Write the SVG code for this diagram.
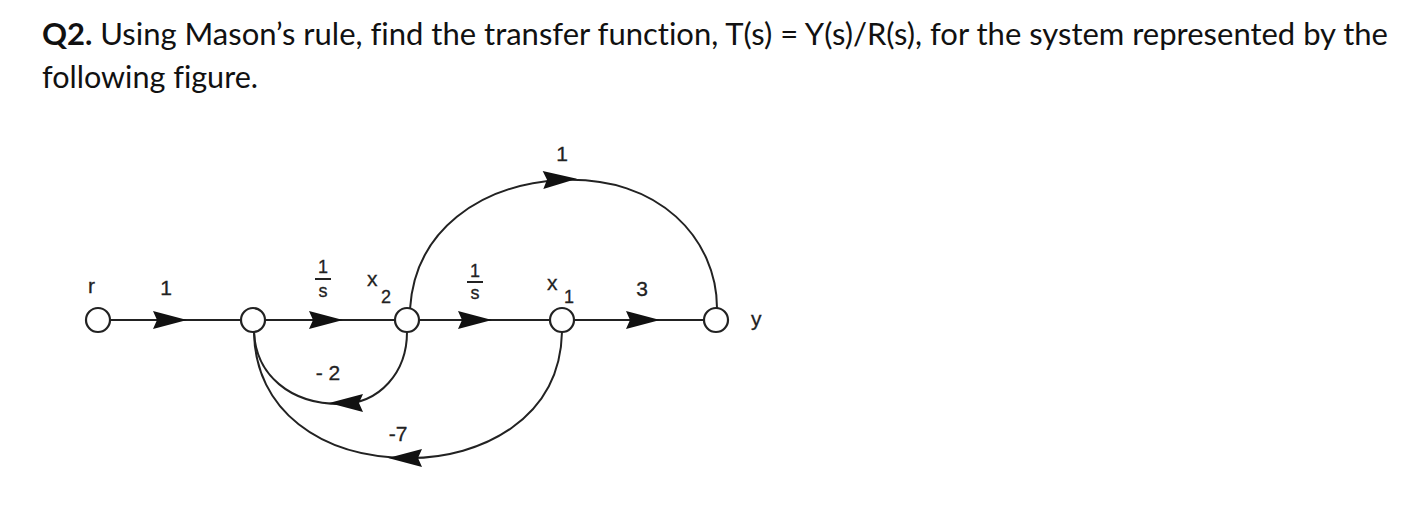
<svg xmlns="http://www.w3.org/2000/svg" width="1420" height="520" viewBox="0 0 1420 520">
<style>
.title{font-family:Lato,"Open Sans","Liberation Sans",sans-serif;font-size:30px;fill:#111;font-variant-ligatures:none;font-feature-settings:"liga" 0}
.lbl{font-family:"Liberation Sans","DejaVu Sans",sans-serif;font-size:21px;fill:#222;stroke:#222;stroke-width:0.3}
.sm{font-family:"Liberation Sans","DejaVu Sans",sans-serif;font-size:18px;fill:#222;stroke:#222;stroke-width:0.3}
.node{fill:#fff;stroke:#222;stroke-width:2.2}
.edge{fill:none;stroke:#222;stroke-width:2}
.arr{fill:#111}
</style>
<defs>
<path id="ah" d="M0,-9 L34,0 L0,9 L4,0 Z"/>
</defs>
<rect width="1420" height="520" fill="#fff"/>
<text class="title" x="42" y="45" textLength="1346" lengthAdjust="spacingAndGlyphs"><tspan font-weight="bold">Q2.</tspan> Using Mason’s rule, find the transfer function, T(s) = Y(s)/R(s), for the system represented by the</text>
<text class="title" x="42" y="88" textLength="216" lengthAdjust="spacingAndGlyphs">following figure.</text>
<g id="connectors">
<line class="edge" x1="110" y1="320" x2="704" y2="320"/>
<path class="edge" d="M410,309 C415,230 480,185 560,180 C660,175 717,240 717,308"/>
<path class="edge" d="M254,332 C256,375 290,404 340,404 C380,404 407,372 407,332"/>
<path class="edge" d="M562,332 C560,420 480,458 410,458 C320,458 255,410 254,332"/>
<use href="#ah" class="arr" x="153" y="320"/>
<use href="#ah" class="arr" x="309" y="320"/>
<use href="#ah" class="arr" x="458" y="320"/>
<use href="#ah" class="arr" x="626" y="320"/>
<use href="#ah" class="arr" transform="translate(543,180) rotate(-2)"/>
<use href="#ah" class="arr" transform="translate(363,403) rotate(180)"/>
<use href="#ah" class="arr" transform="translate(422,458) rotate(180)"/>
</g>
<g id="n-r"><circle class="node" cx="98" cy="320" r="12"/><text class="lbl" x="88" y="293">r</text></g>
<g id="n-e"><circle class="node" cx="253" cy="320" r="12"/></g>
<g id="n-x2"><circle class="node" cx="407" cy="320" r="12"/><text class="lbl" x="367" y="286">x</text><text class="sm" x="381" y="303">2</text></g>
<g id="n-x1"><circle class="node" cx="562" cy="320" r="12"/><text class="lbl" x="547" y="290">x</text><text class="sm" x="564" y="303">1</text></g>
<g id="n-y"><circle class="node" cx="716" cy="320" r="12"/><text class="lbl" x="751" y="326">y</text></g>
<g id="labels">
<text class="lbl" x="166" y="295" text-anchor="middle">1</text>
<text class="sm" x="323" y="273" text-anchor="middle">1</text><line x1="315" y1="279" x2="331" y2="279" stroke="#222" stroke-width="2"/><text class="sm" x="323" y="297" text-anchor="middle">s</text>
<text class="sm" x="475" y="277" text-anchor="middle">1</text><line x1="467" y1="282" x2="483" y2="282" stroke="#222" stroke-width="2"/><text class="sm" x="475" y="299" text-anchor="middle">s</text>
<text class="lbl" x="642" y="296" text-anchor="middle">3</text>
<text class="lbl" x="562" y="161" text-anchor="middle">1</text>
<text class="lbl" x="328" y="380" text-anchor="middle">- 2</text>
<text class="lbl" x="398" y="441" text-anchor="middle">-7</text>
</g>
</svg>
